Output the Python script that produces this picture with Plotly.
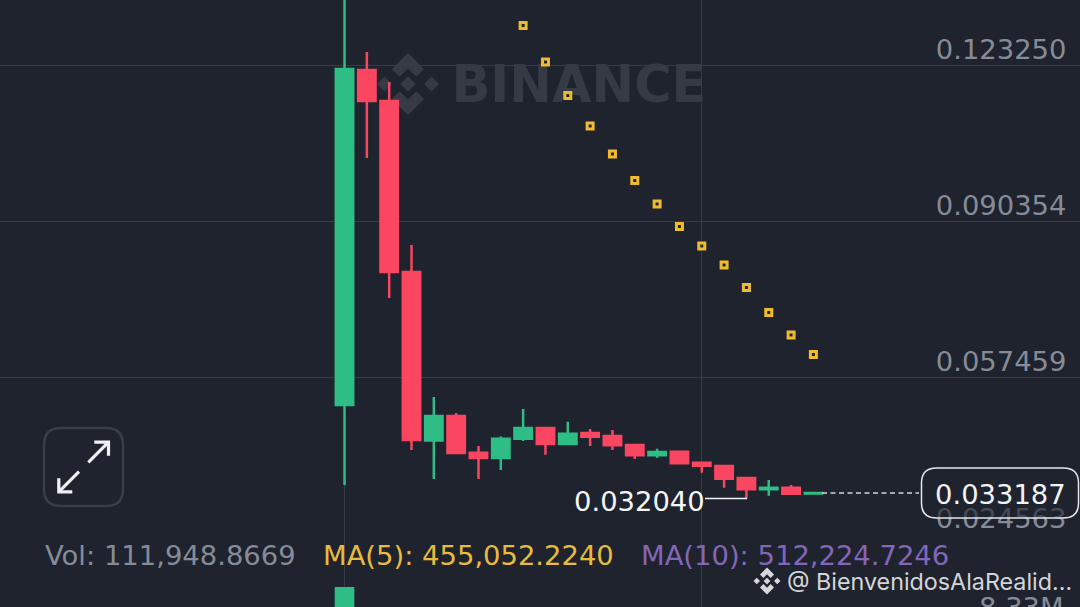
import plotly.graph_objects as go

W, H = 1080, 607
BG = "#1E232E"
GRID = "#363B46"
GREEN = "#2EBD85"
RED = "#FA4660"
GREY = "#868C97"
FONT = "DejaVu Sans"

INDEX = list(range(22))
OPEN = [0.051708, 0.122203, 0.115679, 0.079696, 0.044217, 0.049394, 0.041671, 0.040556,
        0.044617, 0.046869, 0.043502, 0.045816, 0.045185, 0.043291, 0.041124, 0.041881,
        0.039567, 0.038872, 0.036347, 0.033969, 0.034306, 0.033085]
HIGH = [0.145000, 0.125990, 0.119677, 0.085377, 0.053392, 0.050025, 0.043081, 0.045080,
        0.050867, 0.047079, 0.048194, 0.046658, 0.046448, 0.043565, 0.042513, 0.041881,
        0.039714, 0.038872, 0.036621, 0.035926, 0.034874, 0.033290]
LOW = [0.034874, 0.103685, 0.074224, 0.042239, 0.036137, 0.041608, 0.036137, 0.038031,
       0.044133, 0.041250, 0.043502, 0.043081, 0.042239, 0.040345, 0.040619, 0.039440,
       0.037462, 0.034306, 0.032040, 0.032622, 0.032770, 0.033085]
CLOSE = [0.122413, 0.115679, 0.079696, 0.044343, 0.049394, 0.041608, 0.040556, 0.044617,
         0.046869, 0.043502, 0.045669, 0.045038, 0.043228, 0.041124, 0.041818, 0.039440,
         0.038935, 0.036200, 0.033969, 0.034306, 0.033043, 0.033187]

SAR_INDEX = [8, 9, 10, 11, 12, 13, 14, 15, 16, 17, 18, 19, 20, 21]
SAR = [0.131567, 0.123886, 0.116837, 0.110418, 0.104526, 0.098950, 0.094005,
       0.089270, 0.085167, 0.081169, 0.076434, 0.071173, 0.066439, 0.062335]

VOLUME_INDEX = [0]
VOLUME = [12.13e6]

PRICE_TICKS = [0.123250, 0.090354, 0.057459, 0.024563]
PRICE_LABELS = ["0.123250", "0.090354", "0.057459", "0.024563"]
VOLUME_LABEL = "8.33M"
TIME_GRID = [0, 16]
LAST_PRICE = 0.033187
LOW_PRICE = 0.032040
SIZE = 27.4


def px(x):
    return x / W


def py(y):
    return 1 - y / H


def path(points, close=True):
    d = "M " + " L ".join(f"{px(x):.5f} {py(y):.5f}" for x, y in points)
    return d + (" Z" if close else "")


def logo(cx, cy, r, color, layer):
    polys = [
        [(0, -1), (.52, -.48), (.27, -.23), (0, -.5), (-.27, -.23), (-.52, -.48)],
        [(0, 1), (.52, .48), (.27, .23), (0, .5), (-.27, .23), (-.52, .48)],
        [(0, -.25), (.25, 0), (0, .25), (-.25, 0)],
        [(-.76, -.24), (-.52, 0), (-.76, .24), (-1, 0)],
        [(.76, -.24), (1, 0), (.76, .24), (.52, 0)],
    ]
    return [dict(type="path", xref="paper", yref="paper", line_width=0, fillcolor=color, layer=layer,
                 path=path([(cx + a * r, cy + b * r) for a, b in p])) for p in polys]


def rrect(x0, y0, x1, y1, r):
    c = [(x0 + r, y0), (x1 - r, y0), (x1, y0), (x1, y0 + r), (x1, y1 - r), (x1, y1), (x1 - r, y1),
         (x0 + r, y1), (x0, y1), (x0, y1 - r), (x0, y0 + r), (x0, y0), (x0 + r, y0)]
    f = [f"{px(a):.5f} {py(b):.5f}" for a, b in c]
    return (f"M {f[0]} L {f[1]} Q {f[2]} {f[3]} L {f[4]} Q {f[5]} {f[6]} "
            f"L {f[7]} Q {f[8]} {f[9]} L {f[10]} Q {f[11]} {f[12]} Z")


fig = go.Figure()
fig.add_trace(go.Candlestick(
    x=INDEX, open=OPEN, high=HIGH, low=LOW, close=CLOSE,
    increasing=dict(line=dict(color=GREEN, width=2.5), fillcolor=GREEN),
    decreasing=dict(line=dict(color=RED, width=2.5), fillcolor=RED),
    whiskerwidth=0, showlegend=False, xaxis="x", yaxis="y"))
fig.add_trace(go.Scatter(
    x=[10.5], y=[0.118200], mode="text", text=["<b>BINANCE</b>"], textposition="middle center",
    textfont=dict(size=51, color="#353A45", family=FONT), showlegend=False, hoverinfo="skip"))
fig.add_trace(go.Scatter(
    x=SAR_INDEX, y=SAR, mode="markers", showlegend=False,
    marker=dict(symbol="square-open", size=6, color="#EFBC2E", line=dict(width=3, color="#EFBC2E"))))
fig.add_trace(go.Bar(x=VOLUME_INDEX, y=VOLUME, width=[0.88], marker=dict(color=GREEN, line_width=0),
                     showlegend=False, xaxis="x", yaxis="y2"))

shapes = []
shapes += logo(408, 84, 31, "#353A45", "below")
shapes += logo(767, 581, 13.5, "#D8D8D8", "above")
# fullscreen button
shapes.append(dict(type="path", xref="paper", yref="paper", path=rrect(44, 428, 123, 506, 17),
                   line=dict(color="#393E49", width=2.5), fillcolor="rgba(0,0,0,0)"))
for pts in [[(88.3, 462.3), (108.5, 442.2)], [(94.3, 442.2), (108.5, 442.2), (108.5, 455.7)],
            [(79, 471.7), (58.8, 491.8)], [(58.8, 478.3), (58.8, 491.8), (72.3, 491.8)]]:
    shapes.append(dict(type="path", xref="paper", yref="paper", path=path(pts, close=False),
                       line=dict(color="#EEF0F2", width=3.2), fillcolor="rgba(0,0,0,0)"))
# last price dashes
shapes.append(dict(type="line", xref="paper", yref="y", x0=px(822), x1=px(919), y0=LAST_PRICE, y1=LAST_PRICE,
                   line=dict(color="#D2D4D8", width=1.5, dash="5px,3.5px")))
# last price box
shapes.append(dict(type="path", xref="paper", yref="paper", path=rrect(921.5, 468, 1078.5, 518, 15),
                   line=dict(color="#E4E6E8", width=1.5), fillcolor="rgba(30,35,46,0.62)"))
# low price leader
shapes.append(dict(type="line", xref="paper", yref="y", x0=px(705), x1=px(747), y0=LOW_PRICE, y1=LOW_PRICE,
                   line=dict(color="#F2F3F4", width=1.4)))

ann = [
    dict(text="0.033187", x=px(932.5), y=py(494), font=dict(size=SIZE, color="#F2F3F4")),
    dict(text=f"{LOW_PRICE:.6f}", x=px(571.5), y=py(501), font=dict(size=SIZE, color="#F5F6F7")),
    dict(text="Vol: 111,948.8669", x=px(43), y=py(555), font=dict(size=SIZE, color="#868C97")),
    dict(text="MA(5): 455,052.2240", x=px(320.5), y=py(555), font=dict(size=SIZE, color="#E9BB3B")),
    dict(text="MA(10): 512,224.7246", x=px(638.5), y=py(555), font=dict(size=SIZE, color="#8466B8")),
    dict(text="@ BienvenidosAlaRealid…", x=px(784.5), y=py(581), font=dict(size=23.3, color="#D4D5D6", family="Inter")),
]
for a in ann:
    a.update(xref="paper", yref="paper", xanchor="left", yanchor="middle", showarrow=False)
ann.append(dict(text=VOLUME_LABEL, xref="paper", yref="paper", x=px(1066), y=py(607), xanchor="right",
                yanchor="middle", showarrow=False, font=dict(size=SIZE, color=GREY)))

fig.update_layout(
    width=W, height=H, margin=dict(l=0, r=0, t=0, b=0), autosize=False,
    paper_bgcolor=BG, plot_bgcolor=BG, showlegend=False, boxgap=0.22, boxgroupgap=0,
    font=dict(family=FONT, color=GREY),
    shapes=shapes, annotations=ann,
    xaxis=dict(range=[-15.43, 32.94], domain=[0, 1], tickvals=TIME_GRID, showticklabels=False, ticks="",
               showgrid=True, gridcolor=GRID, gridwidth=1.2, zeroline=False, showline=False,
               rangeslider=dict(visible=False), anchor="y"),
    yaxis=dict(range=[0.009202, 0.136933], domain=[0, 1], side="right", tickvals=PRICE_TICKS, ticktext=PRICE_LABELS,
               ticklabelposition="inside", ticks="inside", ticklen=16, tickcolor="rgba(0,0,0,0)",
               ticklabelshift=-16, tickfont=dict(size=SIZE, color=GREY, family=FONT),
               showgrid=True, gridcolor=GRID, gridwidth=1.2, zeroline=False, showline=False, anchor="x"),
    yaxis2=dict(range=[8.13e6, 22.73e6], domain=[0, 73 / 607], side="right", showticklabels=False, ticks="",
                showgrid=False, zeroline=False, showline=False, anchor="x"),
)
fig.write_html("out.html", config=dict(displayModeBar=False), post_script="document.body.style.margin='0';")
